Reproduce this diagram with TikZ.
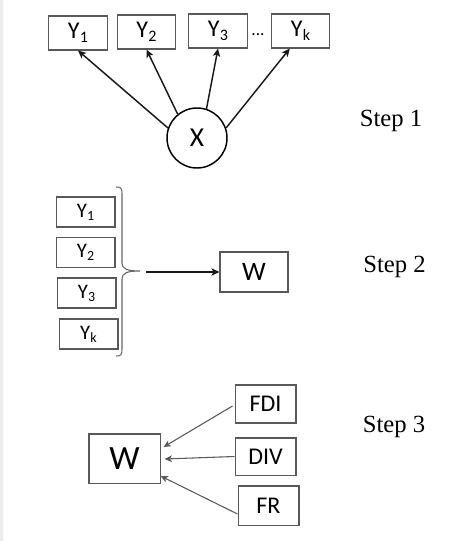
\documentclass[tikz,border=0pt]{standalone}
\usepackage{fontspec}
\setmainfont{Liberation Serif}
\setsansfont{Carlito}
\usetikzlibrary{calc,arrows.meta}
\newcommand\ysb[2]{Y\kern0.2pt\raisebox{-0.32ex}{\fontsize{#2}{#2}\selectfont #1}}
\begin{document}
\begin{tikzpicture}[x=0.75pt,y=-0.75pt,
  boxA/.style={draw=black!65,line width=0.8pt,inner sep=0pt,font=\sffamily\fontsize{18}{18}\selectfont,minimum width=44pt,minimum height=25.5pt},
  boxB/.style={draw=black!65,line width=0.8pt,inner sep=0pt,font=\sffamily\fontsize{15.5}{15.5}\selectfont,minimum width=44.2pt,minimum height=22.5pt},
  boxC/.style={draw=black!65,line width=0.8pt,inner sep=0pt,font=\sffamily\fontsize{18}{18}\selectfont,minimum width=45.7pt,minimum height=28.5pt},
  steplbl/.style={font=\rmfamily\fontsize{18.5}{18.5}\selectfont,inner sep=0pt},
  arrA/.style={-{Stealth[length=6pt,width=5.5pt,inset=1.5pt]},line width=1.1pt,black!90},
  arrC/.style={-{Stealth[length=5.5pt,width=5pt,inset=1.5pt]},line width=0.8pt,black!65}]
\useasboundingbox (0,0) rectangle (474,541);
\fill[black!8] (0,0) rectangle (2.5,541);
% Step 1
\node[boxA] (a1) at (78,33) {\ysb{1}{12}};
\node[boxA] (a2) at (146.5,32) {\ysb{2}{12}};
\node[boxA] (a3) at (218,31) {\ysb{3}{12}};
\node[boxA] (ak) at (300.5,31) {\ysb{k}{12}};
\node[font=\sffamily\fontsize{13}{13}\selectfont,inner sep=0pt] (dots) at (258,35) {...};
\node[draw=black,line width=1.1pt,circle,minimum size=45pt,inner sep=0pt,font=\sffamily\fontsize{20.5}{20.5}\selectfont] (X) at (197,138) {X};
\draw[arrA] (X.161) -- (a1.south);
\draw[arrA] (X.129) -- (a2.south);
\draw[arrA] (X.72) -- (a3.south);
\draw[arrA] (X.19) -- ($(ak.south west)!0.32!(ak.south east)$);
\node[steplbl] (s1) at (391,121) {Step 1};
% Step 2
\node[boxB] (b1) at (85.5,212) {\ysb{1}{10.5}};
\node[boxB] (b2) at (85.5,252.5) {\ysb{2}{10.5}};
\node[boxB] (b3) at (86.5,293) {\ysb{3}{10.5}};
\node[boxB] (bk) at (88.5,334) {\ysb{k}{10.5}};
\coordinate (btip) at (140,271);
\coordinate (bstart) at (146,272);
\draw[black!60,line width=0.8pt] (116,187) .. controls (121,187) and (122,188) .. (122,194) -- (122,263) .. controls (122,269) and (127,271) .. (btip) .. controls (127,271) and (122,273) .. (122,279) -- (122,349) .. controls (122,355) and (121,356) .. (116,356);
\node[draw=black!65,line width=0.8pt,inner sep=0pt,minimum width=51pt,minimum height=30pt,font=\sffamily\fontsize{20}{20}\selectfont] (W2) at (254,272) {W};
\draw[arrA,line width=1pt] (bstart) -- (W2.west);
\node[steplbl] (s2) at (394.5,267) {Step 2};
% Step 3
\node[draw=black!65,line width=0.8pt,inner sep=0pt,minimum width=53.3pt,minimum height=36.8pt,font=\sffamily\fontsize{25.5}{25.5}\selectfont] (W3) at (124.5,458.5) {W};
\node[boxC] (fdi) at (265.5,404) {FDI};
\node[boxC,minimum height=27.8pt] (div) at (265.5,456.5) {DIV};
\node[boxC,minimum height=29.3pt] (fr) at (268.5,505.5) {FR};
\draw[arrC] ($(fdi.west)+(-2,2)$) -- ($(W3.east)+(3,-11.5)$);
\draw[arrC] (div.west) -- ($(W3.east)+(4,0.5)$);
\draw[arrC] ($(fr.west)+(0,8.5)$) -- ($(W3.east)+(0,17.5)$);
\node[steplbl] (s3) at (394,427) {Step 3};
\end{tikzpicture}
\end{document}
